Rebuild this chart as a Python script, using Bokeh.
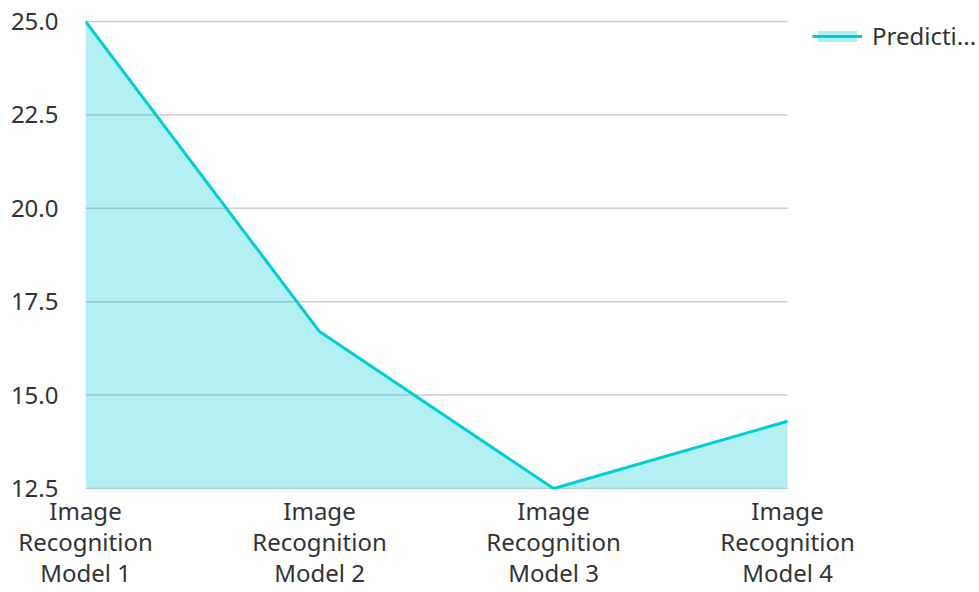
from bokeh.plotting import figure
from bokeh.models import Range1d, FixedTicker, Legend, LegendItem
from bokeh.embed import file_html
from bokeh.resources import INLINE

categories = ["Image\nRecognition\nModel 1", "Image\nRecognition\nModel 2",
              "Image\nRecognition\nModel 3", "Image\nRecognition\nModel 4"]
values = [25.0, 16.7, 12.5, 14.3]
y_ticks = [12.5, 15.0, 17.5, 20.0, 22.5, 25.0]
series_name = "Predicti..."

xs = list(range(len(categories)))
base = [y_ticks[0]] * len(values)

FONT = "Noto Sans"
TXT = "#333333"
COLOR = "#00CED1"
W, H = 979, 592
LEFT, PLOT_RIGHT = 85, 787
PAD = 0.0268
x_end = (len(categories) - 1) * (W - LEFT) / (PLOT_RIGHT - LEFT)

p = figure(width=W, height=H, output_backend="svg", toolbar_location=None,
           x_range=Range1d(0, x_end),
           y_range=Range1d(y_ticks[0] - PAD, y_ticks[-1] + PAD),
           min_border_left=LEFT, min_border_right=0, min_border_top=20, min_border_bottom=103)
p.outline_line_color = None
p.background_fill_color = "white"
p.xgrid.visible = False
p.ygrid.visible = False

# horizontal grid lines at the value ticks, spanning the category extent
n = len(y_ticks)
p.segment(x0=[xs[0]] * n, x1=[xs[-1]] * n, y0=y_ticks, y1=y_ticks,
          line_color="#cccccc", line_width=1.5, level="underlay")

area_r = p.varea(x=xs, y1=base, y2=values, fill_color=COLOR, fill_alpha=0.3)
line_r = p.line(x=xs, y=values, line_color=COLOR, line_width=3)

p.yaxis.ticker = FixedTicker(ticks=y_ticks)
p.yaxis.major_label_overrides = {t: f"{t:.1f}" for t in y_ticks}
p.xaxis.ticker = FixedTicker(ticks=xs)
p.xaxis.major_label_overrides = {i: c for i, c in zip(xs, categories)}

for ax in (p.xaxis[0], p.yaxis[0]):
    ax.axis_line_color = None
    ax.major_tick_line_color = None
    ax.minor_tick_line_color = None
    ax.major_label_text_font = FONT
    ax.major_label_text_font_size = "24px"
    ax.major_label_text_color = TXT
p.yaxis.major_label_standoff = 21
p.xaxis.major_tick_out = 0
p.xaxis.major_tick_in = 0
p.xaxis.major_label_standoff = 4
p.xaxis.major_label_text_line_height = 0.95

legend = Legend(items=[LegendItem(label=series_name, renderers=[area_r, line_r])],
                location=(727, 437))
legend.border_line_color = None
legend.background_fill_alpha = 0
legend.padding = 0
legend.margin = 0
legend.glyph_width = 50
legend.glyph_height = 14
legend.label_standoff = 10
legend.label_text_font = FONT
legend.label_text_font_size = "24px"
legend.label_text_color = TXT
p.add_layout(legend)

open("out.html", "w").write(file_html(p, INLINE))
